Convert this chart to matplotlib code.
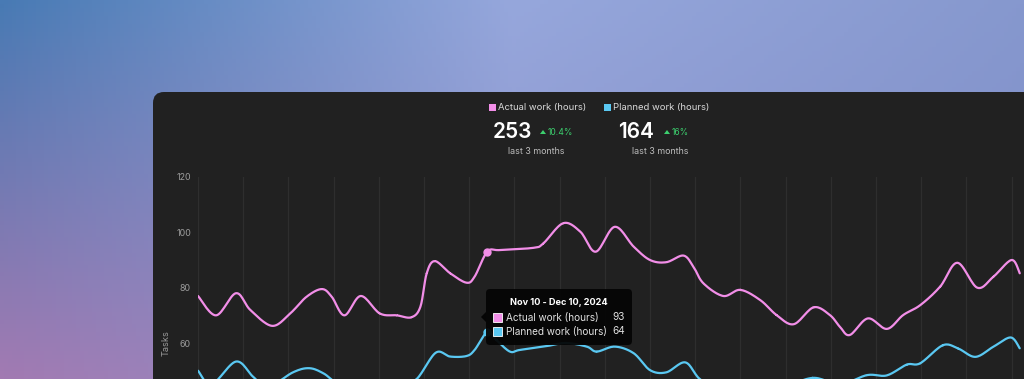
import numpy as np
import matplotlib
matplotlib.use("Agg")
import matplotlib.pyplot as plt
from matplotlib.patches import FancyBboxPatch, Rectangle, Polygon

plt.rcParams['font.family'] = ['Inter', 'DejaVu Sans']

# ---- data (day index, value) ----
actual_days = [0, 2, 4.2, 5.8, 8.2, 10.2, 12, 13.7, 14.8, 16.2, 18, 20.1, 22, 23.6, 24.6,
               25.3, 26.2, 27.9, 29.7, 30.6, 32, 33.4, 37.1, 38.2, 40.4, 42.3, 44, 46.1,
               48.2, 50, 51.8, 53.7, 54.8, 55.9, 58.1, 60, 62.2, 64, 65.9, 68.1, 69.9, 71,
               72.1, 74.1, 76.2, 78, 79.9, 82.1, 84, 86.2, 88, 90, 90.9]
actual_vals = [77, 70, 78, 71.9, 66.2, 70.7, 76.7, 79.5, 76.7, 70, 77, 70.7, 70, 69.3, 73.1,
               85.2, 89.6, 85.2, 81.8, 84, 93, 93.6, 94.4, 96, 103.3, 100.2, 93, 102,
               94.8, 90, 89.2, 91.6, 87.6, 81.6, 77, 79.2, 75.5, 70.1, 66.8, 72.9, 70.1, 65.9,
               62.9, 68.9, 65.1, 70.1, 73.7, 80.4, 89, 80, 84, 90, 85.2]

planned_days = [0, 1.5, 4.2, 6.1, 7.7, 10.5, 12.3, 13.9, 15.7, 19, 22.3, 24.2, 26.3, 27.9,
                29.7, 30.6, 32, 33, 34.5, 35.6, 38.6, 40.7, 43, 44.1, 46.1, 48.2, 50, 51.8,
                53.9, 55.5, 57.7, 61, 64.4, 68, 71, 74, 76.2, 78.4, 79.9, 82.4, 84.1, 86,
                88, 89.9, 90.9]
planned_vals = [50, 45, 53.3, 47.8, 44, 49.4, 50.9, 49, 45, 43, 44, 47, 56.5, 55.1,
                55.3, 57.5, 64, 61.1, 56.9, 57.5, 58.9, 60, 58.7, 56.9, 58.7, 56.3, 50.2, 49.4,
                53, 47, 43, 42, 43.5, 47.4, 45, 48.4, 48.3, 52.2, 52.7, 59.2, 58, 55,
                58.7, 62, 58.1]

series_names = ["Actual work (hours)", "Planned work (hours)"]
totals = ["253", "164"]
changes = ["10.4%", "16%"]
y_ticks = [60, 80, 100, 120]   # the lower ticks fall outside the visible crop
hover_day = 32
hover_label = "Nov 10 - Dec 10, 2024"

PINK = "#f28ee8"
BLUE = "#5ac8f2"
PANEL = "#212121"
GREEN = "#3ccf6e"


def catmull_rom(xs, ys, n=16):
    p = np.column_stack([xs, ys]).astype(float)
    p = np.vstack([p[0], p, p[-1]])
    out = []
    t = np.linspace(0, 1, n)[:, None]
    for i in range(1, len(p) - 2):
        p0, p1, p2, p3 = p[i - 1], p[i], p[i + 1], p[i + 2]
        seg = 0.5 * (2 * p1 + (-p0 + p2) * t + (2 * p0 - 5 * p1 + 4 * p2 - p3) * t ** 2
                     + (-p0 + 3 * p1 - 3 * p2 + p3) * t ** 3)
        out.append(seg)
    out = np.vstack(out)
    return out[:, 0], out[:, 1]


W, H = 1024, 379
fig = plt.figure(figsize=(W / 100, H / 100), dpi=100)

# background layer in pixel units
bg = fig.add_axes([0, 0, 1, 1])
bg.set_xlim(0, W)
bg.set_ylim(H, 0)
bg.axis("off")

tl = np.array([0x48, 0x7a, 0xb4]) / 255
tm = np.array([0x96, 0xa7, 0xdc]) / 255
tr = np.array([0x86, 0x98, 0xce]) / 255
bl = np.array([0xa2, 0x7a, 0xb2]) / 255
bm = np.array([0x8e, 0x92, 0xca]) / 255
br = np.array([0x80, 0x8c, 0xc8]) / 255
gx = np.linspace(0, 1, 256)[None, :, None]
gy = np.linspace(0, 1, 96)[:, None, None]
left = np.clip(1 - 2 * gx, 0, 1)
right = np.clip(2 * gx - 1, 0, 1)
mid = 1 - left - right
top = tl * left + tm * mid + tr * right
bot = bl * left + bm * mid + br * right
img = top * (1 - gy) + bot * gy
bg.imshow(img, extent=[0, W, H, 0], aspect="auto", zorder=0)

panel = FancyBboxPatch((153, 92), 920, 400, boxstyle="round,pad=0,rounding_size=11",
                       facecolor=PANEL, edgecolor="none", zorder=1)
bg.add_patch(panel)

# legend + summary numbers
leg_x = [489, 604]
big_x = [512, 636]
for i, (name, col) in enumerate(zip(series_names, [PINK, BLUE])):
    bg.add_patch(Rectangle((leg_x[i], 104), 7, 7, facecolor=col, edgecolor="none", zorder=2))
    bg.text(leg_x[i] + 9, 107.5, name, color="#d8d8d8", fontsize=6.8, va="center",
            ha="left", zorder=2)
    bg.text(big_x[i], 132.5, totals[i], color="white", fontsize=15, fontweight="semibold",
            va="center", ha="center", zorder=2)
    tx = big_x[i] + 31
    bg.add_patch(Polygon([[tx - 3, 134], [tx + 3, 134], [tx, 130]], closed=True,
                         facecolor=GREEN, edgecolor="none", zorder=2))
    bg.text(tx + 5, 132.5, changes[i], color=GREEN, fontsize=6.2, va="center", ha="left",
            zorder=2)
    bg.text(big_x[i] + 24, 151.5, "last 3 months", color="#bdbdbd", fontsize=6.4,
            va="center", ha="center", zorder=2)

# chart axes in data units
ax_top = 177
ax_bottom = 177 + 120 * 2.767
ax = fig.add_axes([198 / W, 1 - ax_bottom / H, (W - 198) / W, (ax_bottom - ax_top) / H])
ax.set_facecolor("none")
ax.set_xlim(0, (W - 198) / 9.04)
ax.set_ylim(0, 120)
ax.set_yticks(y_ticks)
ax.set_xticks(np.arange(0, 91, 5))
ax.tick_params(axis="y", length=0, pad=5, labelsize=6.4, labelcolor="#9c9c9c")
ax.tick_params(axis="x", length=0, labelbottom=False)
ax.grid(axis="x", color="#2e2e2e", linewidth=0.9)
ax.grid(axis="y", visible=False)
for s in ax.spines.values():
    s.set_visible(False)
ax.set_ylabel("Tasks", color="#9c9c9c", fontsize=6.6, labelpad=4)

px, py = catmull_rom(actual_days, actual_vals)
ax.plot(px, py, color=PINK, linewidth=1.6, solid_capstyle="round", zorder=3)
bx, by = catmull_rom(planned_days, planned_vals)
ax.plot(bx, by, color=BLUE, linewidth=1.6, solid_capstyle="round", zorder=3)

hi = actual_days.index(hover_day)
hj = planned_days.index(hover_day)
ax.plot([hover_day], [actual_vals[hi]], "o", color=PINK, markersize=5, zorder=4)
ax.plot([hover_day], [planned_vals[hj]], "o", color=BLUE, markersize=5, zorder=4)

# tooltip layer on top
ov = fig.add_axes([0, 0, 1, 1])
ov.set_xlim(0, W)
ov.set_ylim(H, 0)
ov.axis("off")
ov.set_facecolor("none")
ov.add_patch(FancyBboxPatch((486, 289), 146, 56, boxstyle="round,pad=0,rounding_size=4",
                            facecolor="#050505", edgecolor="none", alpha=0.95))
ov.add_patch(Polygon([[486, 312], [486, 322], [481, 317]], closed=True,
                     facecolor="#050505", edgecolor="none"))
ov.text(559, 302.5, hover_label, color="white", fontsize=6.6, fontweight="bold",
        ha="center", va="center")
tip_vals = [actual_vals[hi], planned_vals[hj]]
for k, (name, col) in enumerate(zip(series_names, [PINK, BLUE])):
    yy = 317.5 + k * 14
    ov.add_patch(Rectangle((493, yy - 4.5), 9, 9, facecolor=col, edgecolor="white",
                           linewidth=0.6))
    ov.text(506, yy, name, color="#e0e0e0", fontsize=7.2, ha="left", va="center")
    ov.text(625, yy, f"{tip_vals[k]:g}", color="#e0e0e0", fontsize=7.2, ha="right",
            va="center")

fig.savefig("out.png", dpi=100)
